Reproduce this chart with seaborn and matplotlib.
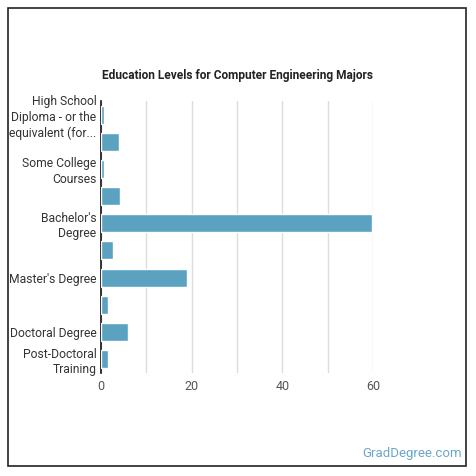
import numpy as np
import pandas as pd
import seaborn as sns
import matplotlib.pyplot as plt
from matplotlib.patches import Rectangle

# education levels (every bar) and the labels that are actually shown
levels = ['High School Diploma', 'Post-Secondary Certificate', 'Some College Courses',
          "Associate's Degree", "Bachelor's Degree", 'Post-Baccalaureate Certificate',
          "Master's Degree", "Post-Master's Certificate", 'Doctoral Degree',
          'Post-Doctoral Training']
shown_labels = ['High School\nDiploma - or the\nequivalent (for...', '',
                'Some College\nCourses', '', "Bachelor's\nDegree", '',
                "Master's Degree", '', 'Doctoral Degree', 'Post-Doctoral\nTraining']
percent = [0.7, 4.0, 0.7, 4.2, 59.7, 2.6, 18.9, 1.5, 6.1, 1.5]

x_ticks = [0, 10, 20, 30, 40, 50, 60]
x_ticklabels = ['0', '', '20', '', '40', '', '60']

df = pd.DataFrame({'level': levels, 'percent': percent})

sns.set_style('white')
plt.rcParams['font.family'] = ['Roboto', 'DejaVu Sans']

fig = plt.figure(figsize=(4.76, 4.76), dpi=100)
ax = fig.add_axes([0.2116, 0.2172, 0.5727, 0.5704])

sns.barplot(data=df, x='percent', y='level', color='#5ba2c1', saturation=1,
            width=0.66, ax=ax, zorder=3)

ax.set_xlim(0, 60)
ax.set_xticks(x_ticks)
ax.set_xticklabels(x_ticklabels, color='#555555', fontsize=9)
ax.set_yticks(range(len(levels)))
ax.set_yticklabels(shown_labels, color='#333333', fontsize=8.7, linespacing=1.25,
                   ha='right', multialignment='right')
ax.tick_params(axis='y', length=0, pad=3)
ax.tick_params(axis='x', length=0, pad=5)
ax.xaxis.grid(True, color='#dddddd', linewidth=1, zorder=0)
ax.set_axisbelow(True)
ax.set_xlabel('')
ax.set_ylabel('')
for side in ['top', 'right', 'bottom']:
    ax.spines[side].set_visible(False)
ax.spines['left'].set_color('#111111')
ax.spines['left'].set_linewidth(1.2)

ax.set_title('Education Levels for Computer Engineering Majors', fontsize=8.6,
             fontweight='bold', color='#222222', pad=16)

# outer frame and site credit
fig.patches.append(Rectangle((8 / 476, 10 / 476), 458 / 476, 458 / 476,
                             transform=fig.transFigure, fill=False,
                             edgecolor='#222222', linewidth=1.2))
fig.text(462 / 476, 1 - 453 / 476, 'GradDegree.com', ha='right', va='center',
         fontsize=9.5, color='#6aa6c8')

fig.savefig('out.png', dpi=100)
